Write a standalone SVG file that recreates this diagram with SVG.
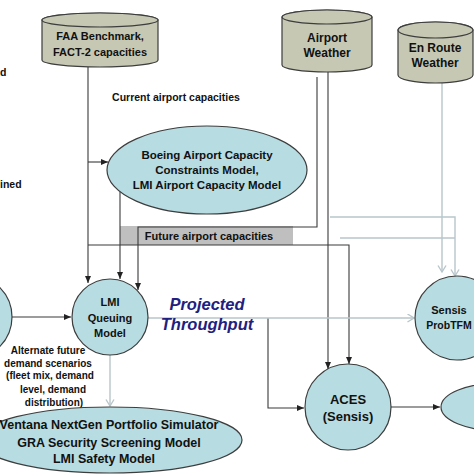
<svg xmlns="http://www.w3.org/2000/svg" width="474" height="474" viewBox="0 0 474 474">
<style>
.t{font-family:"Liberation Sans",Arial,sans-serif;font-weight:bold;fill:#111;text-anchor:middle}
.cyl{fill:#c6c8b4;stroke:#3d3d3d;stroke-width:1.2}
.blue{fill:#b7dce2;stroke:#3d3d3d;stroke-width:1.2}
.dk{fill:none;stroke:#3a3a3a;stroke-width:1.1}
.lt{fill:none;stroke:#b8c6cb;stroke-width:1.4}
.pt{font-family:"Liberation Sans",Arial,sans-serif;font-weight:bold;font-style:italic;fill:#1e2180;text-anchor:middle;font-size:16.5px}
</style>
<defs>
<marker id="ad" markerUnits="userSpaceOnUse" markerWidth="8" markerHeight="7" refX="7" refY="3" orient="auto">
<path d="M0,0 L7,3 L0,6 z" fill="#222"/>
</marker>
<marker id="al" markerUnits="userSpaceOnUse" markerWidth="10" markerHeight="10" refX="7" refY="4.5" orient="auto">
<path d="M0.5,0.5 L7,4.5 L0.5,8.5" fill="none" stroke="#b8c6cb" stroke-width="1.4"/>
</marker>
</defs>
<rect width="474" height="474" fill="#fff"/>

<g id="label-future">
<rect x="120" y="226" width="173" height="19" fill="#bfbfbf"/>
<text class="t" x="209" y="240" font-size="11">Future airport capacities</text>
</g>

<g id="connectors">
<path class="dk" d="M88,67 V283" marker-end="url(#ad)"/>
<path class="dk" d="M88,162 H108" marker-end="url(#ad)"/>
<path class="dk" d="M120,192 V279" marker-end="url(#ad)"/>
<path class="dk" d="M317,77 V227 H138 V290" marker-end="url(#ad)"/>
<path class="dk" d="M88,245 H349 V364" marker-end="url(#ad)"/>
<path class="dk" d="M328,72 V369" marker-end="url(#ad)"/>
<path class="dk" d="M268,318 V408 H304" marker-end="url(#ad)"/>
<path class="dk" d="M391,407 H440" marker-end="url(#ad)"/>
<path class="dk" d="M12,317 H71" marker-end="url(#ad)"/>
<path class="lt" d="M148,318 H414" marker-end="url(#al)"/>
<path class="lt" d="M110,355 V406" marker-end="url(#al)"/>
<path class="lt" d="M442,82 V272" marker-end="url(#al)"/>
<path class="lt" d="M330,217 H455 V276" marker-end="url(#al)"/>
<path class="lt" d="M340,238 H455"/>
</g>

<g id="faa">
<path class="cyl" d="M42,20 V60 A58,7 0 0 0 158,60 V20 A58,7 0 0 0 42,20 Z"/>
<ellipse class="cyl" cx="100" cy="20" rx="58" ry="7"/>
<text class="t" x="100" y="40" font-size="11">FAA Benchmark,</text>
<text class="t" x="100" y="56" font-size="11">FACT-2 capacities</text>
</g>

<g id="airport-weather">
<path class="cyl" d="M282,17 V65 A45,7 0 0 0 372,65 V17 A45,7 0 0 0 282,17 Z"/>
<ellipse class="cyl" cx="327" cy="17" rx="45" ry="7"/>
<text class="t" x="327" y="42" font-size="12">Airport</text>
<text class="t" x="327" y="57" font-size="12">Weather</text>
</g>

<g id="enroute-weather">
<path class="cyl" d="M398,30 V75 A37.5,8 0 0 0 473,75 V30 A37.5,8 0 0 0 398,30 Z"/>
<ellipse class="cyl" cx="435.5" cy="30" rx="37.5" ry="8"/>
<text class="t" x="435" y="52" font-size="12">En Route</text>
<text class="t" x="435" y="67" font-size="12">Weather</text>
</g>

<g id="current-label">
<text class="t" x="176" y="101" font-size="10.5">Current airport capacities</text>
</g>

<g id="left-fragments">
<text class="t" x="0" y="76" font-size="10.5" style="text-anchor:start">d</text>
<text class="t" x="0" y="188" font-size="10.5" style="text-anchor:start">ined</text>
</g>

<g id="boeing">
<ellipse class="blue" cx="207" cy="170" rx="100" ry="44"/>
<text class="t" x="207" y="159" font-size="11.5">Boeing Airport Capacity</text>
<text class="t" x="207" y="174" font-size="11.5">Constraints Model,</text>
<text class="t" x="207" y="189" font-size="11.5">LMI Airport Capacity Model</text>
</g>

<g id="left-node">
<circle class="blue" cx="-30" cy="317" r="42"/>
</g>

<g id="lmi-queuing">
<circle class="blue" cx="110" cy="317" r="38"/>
<text class="t" x="110" y="306" font-size="11">LMI</text>
<text class="t" x="110" y="322" font-size="11">Queuing</text>
<text class="t" x="110" y="337" font-size="11">Model</text>
</g>

<g id="alternate-label">
<text class="t" x="48" y="354" font-size="10">Alternate future</text>
<text class="t" x="48" y="367" font-size="10">demand scenarios</text>
<text class="t" x="50" y="379" font-size="10">(fleet mix, demand</text>
<text class="t" x="53" y="393" font-size="10">level, demand</text>
<text class="t" x="54" y="406" font-size="10">distribution)</text>
</g>

<g id="throughput-label">
<text class="pt" x="207" y="310">Projected</text>
<text class="pt" x="207" y="330">Throughput</text>
</g>

<g id="ventana">
<ellipse class="blue" cx="110" cy="440" rx="132" ry="33"/>
<text class="t" x="109" y="429" font-size="12.5">Ventana NextGen Portfolio Simulator</text>
<text class="t" x="109" y="447" font-size="12.5">GRA Security Screening Model</text>
<text class="t" x="104" y="463" font-size="12.5">LMI Safety Model</text>
</g>

<g id="aces">
<circle class="blue" cx="348" cy="407" r="43"/>
<text class="t" x="348" y="404" font-size="13">ACES</text>
<text class="t" x="348" y="421" font-size="13">(Sensis)</text>
</g>

<g id="sensis">
<circle class="blue" cx="457" cy="318" r="42"/>
<text class="t" x="449" y="314" font-size="11">Sensis</text>
<text class="t" x="449" y="329" font-size="10.5">ProbTFM</text>
</g>

<g id="right-node">
<ellipse class="blue" cx="500" cy="407" rx="59" ry="24"/>
</g>
</svg>
